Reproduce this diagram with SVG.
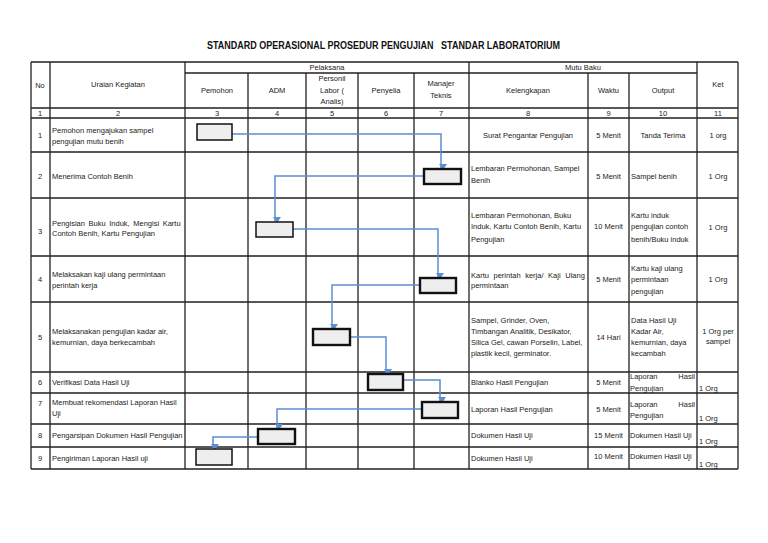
<svg xmlns="http://www.w3.org/2000/svg" width="768" height="543" viewBox="0 0 768 543">
<defs>
<style>
.t{font-family:"Liberation Sans",Arial,sans-serif;font-size:7.5px;fill:#222;dominant-baseline:central}
.c{text-anchor:middle}
.e{text-anchor:end}
.title{font-family:"Liberation Sans",Arial,sans-serif;font-size:10px;font-weight:bold;fill:#111;dominant-baseline:central}
.g{stroke:#222;stroke-width:1.3;fill:none}
.bx{fill:#eeeeee;stroke:#111;stroke-width:1.5}
.bk{fill:#eeeeee;stroke:#111;stroke-width:2.4}
.cn{fill:none;stroke:#5b8ed3;stroke-width:1.5;marker-end:url(#ah)}
</style>
<marker id="ah" markerUnits="userSpaceOnUse" markerWidth="8" markerHeight="8" refX="4" refY="6" orient="auto-start-reverse" viewBox="0 0 8 8">
<path d="M0,0 L8,0 L4,6 Z" transform="rotate(-90 4 4)" fill="#5b8ed3"/>
</marker>
</defs>
<rect width="768" height="543" fill="#ffffff"/>
<text class="title" x="207" y="45" textLength="353" lengthAdjust="spacingAndGlyphs" xml:space="preserve">STANDARD OPERASIONAL PROSEDUR PENGUJIAN   STANDAR LABORATORIUM</text>

<g id="grid" class="g">
<path d="M31,62H738M185,73H697M31,108H738M31,118H738M31,152H738M31,198H738M31,256H738M31,302H738M31,372H738M31,393H738M31,424H738M31,447H738M31,469H738"/>
<path d="M31,62V469M50,62V469M185,62V469M469,62V469M697,62V469M738,62V469M248,73V469M306,73V469M358,73V469M414,73V469M588,73V469M629,73V469"/>
</g>

<g id="header">
<text class="t c" x="40" y="85">No</text>
<text class="t c" x="118" y="84">Uraian Kegiatan</text>
<text class="t c" x="327" y="67.5">Pelaksana</text>
<text class="t c" x="583" y="67.5">Mutu Baku</text>
<text class="t c" x="718" y="84.5">Ket</text>
<text class="t c" x="217" y="90">Pemohon</text>
<text class="t c" x="277" y="90">ADM</text>
<text class="t c" x="332" y="78.3">Personil</text>
<text class="t c" x="332" y="90">Labor (</text>
<text class="t c" x="332" y="101.7">Analis)</text>
<text class="t c" x="386" y="90">Penyelia</text>
<text class="t c" x="441" y="83.3">Manajer</text>
<text class="t c" x="441" y="95">Teknis</text>
<text class="t c" x="528" y="90">Kelengkapan</text>
<text class="t c" x="608.5" y="90">Waktu</text>
<text class="t c" x="663" y="90">Output</text>
<text class="t c" x="40" y="113">1</text>
<text class="t c" x="118" y="113">2</text>
<text class="t c" x="217" y="113">3</text>
<text class="t c" x="277" y="113">4</text>
<text class="t c" x="332" y="113">5</text>
<text class="t c" x="386" y="113">6</text>
<text class="t c" x="441" y="113">7</text>
<text class="t c" x="528" y="113">8</text>
<text class="t c" x="608.5" y="113">9</text>
<text class="t c" x="663" y="113">10</text>
<text class="t c" x="718" y="113">11</text>
</g>

<g id="row1">
<text class="t c" x="40" y="135">1</text>
<text class="t" x="52" y="130">Pemohon mengajukan sampel</text>
<text class="t" x="52" y="141">pengujian mutu benih</text>
<text class="t c" x="528" y="135">Surat Pengantar Pengujian</text>
<text class="t c" x="608.5" y="135">5 Menit</text>
<text class="t c" x="663" y="135">Tanda Terima</text>
<text class="t c" x="718" y="135">1 org</text>
</g>
<g id="row2">
<text class="t c" x="40" y="176">2</text>
<text class="t" x="52" y="176">Menerima Contoh Benih</text>
<text class="t" x="471" y="168.3">Lembaran Permohonan, Sampel</text>
<text class="t" x="471" y="180.7">Benih</text>
<text class="t c" x="608.5" y="176">5 Menit</text>
<text class="t" x="631" y="176">Sampel benih</text>
<text class="t c" x="718" y="176">1 Org</text>
</g>
<g id="row3">
<text class="t c" x="40" y="231">3</text>
<text class="t" x="52" y="223.3" style="word-spacing:1.5px">Pengisian Buku Induk, Mengisi Kartu</text>
<text class="t" x="52" y="233.5">Contoh Benih, Kartu Pengujian</text>
<text class="t" x="471" y="215">Lembaran Permohonan, Buku</text>
<text class="t" x="471" y="226.7">Induk, Kartu Contoh Benih, Kartu</text>
<text class="t" x="471" y="239">Pengujian</text>
<text class="t c" x="608.5" y="226.7">10 Menit</text>
<text class="t" x="631" y="215">Kartu induk</text>
<text class="t" x="631" y="226.7">pengujian contoh</text>
<text class="t" x="631" y="239">benih/Buku induk</text>
<text class="t c" x="718" y="227">1 Org</text>
</g>
<g id="row4">
<text class="t c" x="40" y="279">4</text>
<text class="t" x="52" y="274">Melaksakan kaji ulang permintaan</text>
<text class="t" x="52" y="285">perintah kerja</text>
<text class="t" x="471" y="275" style="word-spacing:2.5px">Kartu perintah kerja/ Kaji Ulang</text>
<text class="t" x="471" y="285.5">permintaan</text>
<text class="t c" x="608.5" y="279">5 Menit</text>
<text class="t" x="631" y="268.3">Kartu kaji ulang</text>
<text class="t" x="631" y="279.7">permintaan</text>
<text class="t" x="631" y="291.7">pengujian</text>
<text class="t c" x="718" y="279">1 Org</text>
</g>
<g id="row5">
<text class="t c" x="40" y="337">5</text>
<text class="t" x="52" y="331.7">Melaksanakan pengujian kadar air,</text>
<text class="t" x="52" y="342.7">kemurnian, daya berkecambah</text>
<text class="t" x="471" y="320">Sampel, Grinder, Oven,</text>
<text class="t" x="471" y="331.7">Timbangan Analitik, Desikator,</text>
<text class="t" x="471" y="342.3">Silica Gel, cawan Porselin, Label,</text>
<text class="t" x="471" y="353.3">plastik kecil, germinator.</text>
<text class="t c" x="608.5" y="337">14 Hari</text>
<text class="t" x="631" y="320">Data Hasil Uji</text>
<text class="t" x="631" y="331.7">Kadar Air,</text>
<text class="t" x="631" y="342.3">kemurnian, daya</text>
<text class="t" x="631" y="353.3">kecambah</text>
<text class="t c" x="718" y="331">1 Org per</text>
<text class="t c" x="718" y="341.7">sampel</text>
</g>
<g id="row6">
<text class="t c" x="40" y="382.3">6</text>
<text class="t" x="52" y="382.3">Verifikasi Data Hasil Uji</text>
<text class="t" x="471" y="382.3">Blanko Hasil Pengujian</text>
<text class="t c" x="608.5" y="382.3">5 Menit</text>
<text class="t" x="630" y="376.7">Laporan</text>
<text class="t e" x="695" y="376.7">Hasil</text>
<text class="t" x="630" y="388.3">Pengujian</text>
<text class="t" x="699" y="388.3">1 Org</text>
</g>
<g id="row7">
<text class="t c" x="40" y="403.3">7</text>
<text class="t" x="52" y="402.3">Membuat rekomendasi Laporan Hasil</text>
<text class="t" x="52" y="413.3">Uji</text>
<text class="t" x="471" y="409">Laporan Hasil Pengujian</text>
<text class="t c" x="608.5" y="409">5 Menit</text>
<text class="t" x="630" y="404.3">Laporan</text>
<text class="t e" x="695" y="404.3">Hasil</text>
<text class="t" x="630" y="415">Pengujian</text>
<text class="t" x="699" y="418.3">1 Org</text>
</g>
<g id="row8">
<text class="t c" x="40" y="435.7">8</text>
<text class="t" x="52" y="435.7">Pengarsipan Dokumen Hasil Pengujian</text>
<text class="t" x="471" y="435.7">Dokumen Hasil Uji</text>
<text class="t c" x="608.5" y="435">15 Menit</text>
<text class="t" x="630" y="435">Dokumen Hasil Uji</text>
<text class="t" x="699" y="441.7">1 Org</text>
</g>
<g id="row9">
<text class="t c" x="40" y="458.3">9</text>
<text class="t" x="52" y="458.3">Pengiriman Laporan Hasil uji</text>
<text class="t" x="471" y="458.3">Dokumen Hasil Uji</text>
<text class="t c" x="608.5" y="456.7">10 Menit</text>
<text class="t" x="630" y="456.7">Dokumen Hasil Uji</text>
<text class="t" x="699" y="464">1 Org</text>
</g>

<g id="connectors">
<path class="cn" d="M232,134H441V168"/>
<path class="cn" d="M424,176H275V221"/>
<path class="cn" d="M293,229H438V277"/>
<path class="cn" d="M420,285H332V328"/>
<path class="cn" d="M350,337H386V373"/>
<path class="cn" d="M403,380H440V401"/>
<path class="cn" d="M422,409H277V428"/>
<path class="cn" d="M258,437H213V448"/>
</g>

<g id="box1"><rect class="bx" x="197" y="124" width="35" height="16"/></g>
<g id="box2"><rect class="bk" x="424" y="169" width="37" height="15"/></g>
<g id="box3"><rect class="bx" x="256" y="222" width="37" height="15"/></g>
<g id="box4"><rect class="bk" x="420" y="278" width="36" height="15"/></g>
<g id="box5"><rect class="bk" x="313" y="329" width="37" height="16"/></g>
<g id="box6"><rect class="bk" x="368" y="374" width="35" height="16"/></g>
<g id="box7"><rect class="bk" x="422" y="402" width="36" height="16"/></g>
<g id="box8"><rect class="bk" x="258" y="429" width="37" height="15"/></g>
<g id="box9"><rect class="bx" x="196" y="449" width="36" height="16"/></g>
</svg>
